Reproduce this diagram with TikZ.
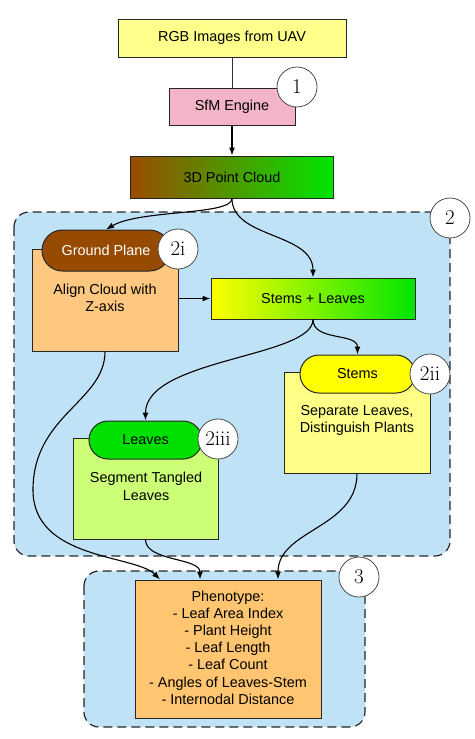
\documentclass[tikz,border=0pt]{standalone}
\usepackage{fontspec}
\newfontfamily\arialf{Liberation Sans}
\usetikzlibrary{shapes.misc,arrows.meta}
\definecolor{rgbyel}{HTML}{FFFF8C}
\definecolor{sfmpink}{HTML}{F4B4C8}
\definecolor{pcbrown}{HTML}{9A4C00}
\definecolor{pcyel}{HTML}{FFFF30}
\definecolor{pcgreen}{HTML}{00E600}
\definecolor{slmid}{HTML}{E8FF30}
\definecolor{regblue}{HTML}{C0E2F6}
\definecolor{gpbrown}{HTML}{964B00}
\definecolor{orangebox}{HTML}{FFC880}
\definecolor{stemyel}{HTML}{FFFF00}
\definecolor{ybox}{HTML}{FFFF88}
\definecolor{leafgreen}{HTML}{00E000}
\definecolor{gbox}{HTML}{CCFF77}
\definecolor{phbox}{HTML}{FFC570}
\begin{document}
\begin{tikzpicture}[x=1pt,y=-1pt,
  box/.style={draw=black!85, line width=1pt, inner sep=0pt, align=center,
    font=\arialf\fontsize{14.4}{17.5}\selectfont},
  pill/.style={box, rounded rectangle},
  txt/.style={inner sep=0pt, align=center, font=\arialf\fontsize{14.4}{17.5}\selectfont},
  num/.style={circle, draw=black!70, line width=0.8pt, fill=white, minimum size=40pt,
    inner sep=0pt, font=\fontsize{21}{21}\selectfont},
  region/.style={draw=black!85, dash pattern=on 9pt off 5pt, line width=1.2pt,
    rounded corners=15pt, fill=regblue},
  arr/.style={-{Latex[length=8pt,width=6pt]}, line width=1.1pt},
  plain/.style={line width=0.8pt, draw=black!80}]
\useasboundingbox (0,0) rectangle (474,739);
% regions
\draw[region] (14,212) rectangle (450,556);
\draw[region] (84,571) rectangle (365,727);
% top chain
\node[box, fill=rgbyel, minimum width=228pt, minimum height=38pt] (rgb) at (232,38) {RGB Images from UAV};
\node[box, fill=sfmpink, minimum width=126pt, minimum height=37pt] (sfm) at (232,106.5) {SfM Engine};
\node[num] (n1) at (297,87) {1};
\node[box, left color=pcbrown, middle color=pcyel, right color=pcgreen, minimum width=203pt, minimum height=42pt] (pc) at (232,177) {3D Point Cloud};
\node[num] (n2) at (450,218) {2};
% ground plane
\node[box, fill=orangebox, minimum width=146pt, minimum height=102pt] (ob) at (105,300) {};
\node[txt] (otext) at (105,298) {Align Cloud with\\Z-axis};
\node[pill, fill=gpbrown, text=white, minimum width=128pt, minimum height=41pt] (gp) at (106,250.5) {Ground Plane};
\node[num] (n2i) at (178,249) {2i};
% stems + leaves
\node[box, left color=stemyel, middle color=slmid, right color=pcgreen, minimum width=204pt, minimum height=41pt] (sl) at (313,298.5) {Stems + Leaves};
% stems
\node[box, fill=ybox, minimum width=146pt, minimum height=101pt] (yb) at (357,422.5) {};
\node[txt] (ytext) at (357,420.5) {Separate Leaves,\\Distinguish Plants};
\node[pill, fill=stemyel, minimum width=115pt, minimum height=38pt] (st) at (357.5,374) {Stems};
\node[num] (n2ii) at (430,374) {2ii};
% leaves
\node[box, fill=gbox, minimum width=145pt, minimum height=101pt] (gb) at (145.5,488.5) {};
\node[txt] (gtext) at (146,486.5) {Segment Tangled\\Leaves};
\node[pill, fill=leafgreen, minimum width=113pt, minimum height=38pt] (lv) at (145.5,440) {Leaves};
\node[num] (n2iii) at (218,439) {2iii};
% phenotype
\node[box, fill=phbox, minimum width=186pt, minimum height=138pt] (ph) at (228,649) {};
\node[txt, font=\arialf\fontsize{14.4}{17.2}\selectfont] (phtext) at (228,647.5) {Phenotype:\\- Leaf Area Index\\- Plant Height\\- Leaf Length\\- Leaf Count\\- Angles of Leaves-Stem\\- Internodal Distance};
\node[num] (n3) at (359,577) {3};
% connectors
\draw[plain] (rgb) -- (sfm);
\draw[arr] (sfm) -- (pc);
\draw[arr] (pc.south) .. controls +(0,17) and +(34,-20) .. (gp.north);
\draw[arr] (pc.south) .. controls +(0,40) and +(0,-45) .. (sl.north);
\draw[arr] (ob.east |- sl) -- (sl.west);
\draw[arr] (sl.south) .. controls +(0,38) and +(0,-62) .. (lv.north);
\draw[arr] (sl.south) .. controls +(0,22) and +(0,-22) .. (st.north);
\coordinate (bend) at (33,490);
\draw[arr] (ob.south) .. controls +(0,50) and +(0,-75) .. (bend)
  .. controls +(0,70) and +(-25,-25) .. ([xshift=-68pt]ph.north);
\draw[arr] (gb.south) .. controls +(0,22) and +(0,-22) .. ([xshift=-28pt]ph.north);
\draw[arr] (yb.south) .. controls +(0,55) and +(0,-50) .. ([xshift=50pt]ph.north);
\end{tikzpicture}
\end{document}
